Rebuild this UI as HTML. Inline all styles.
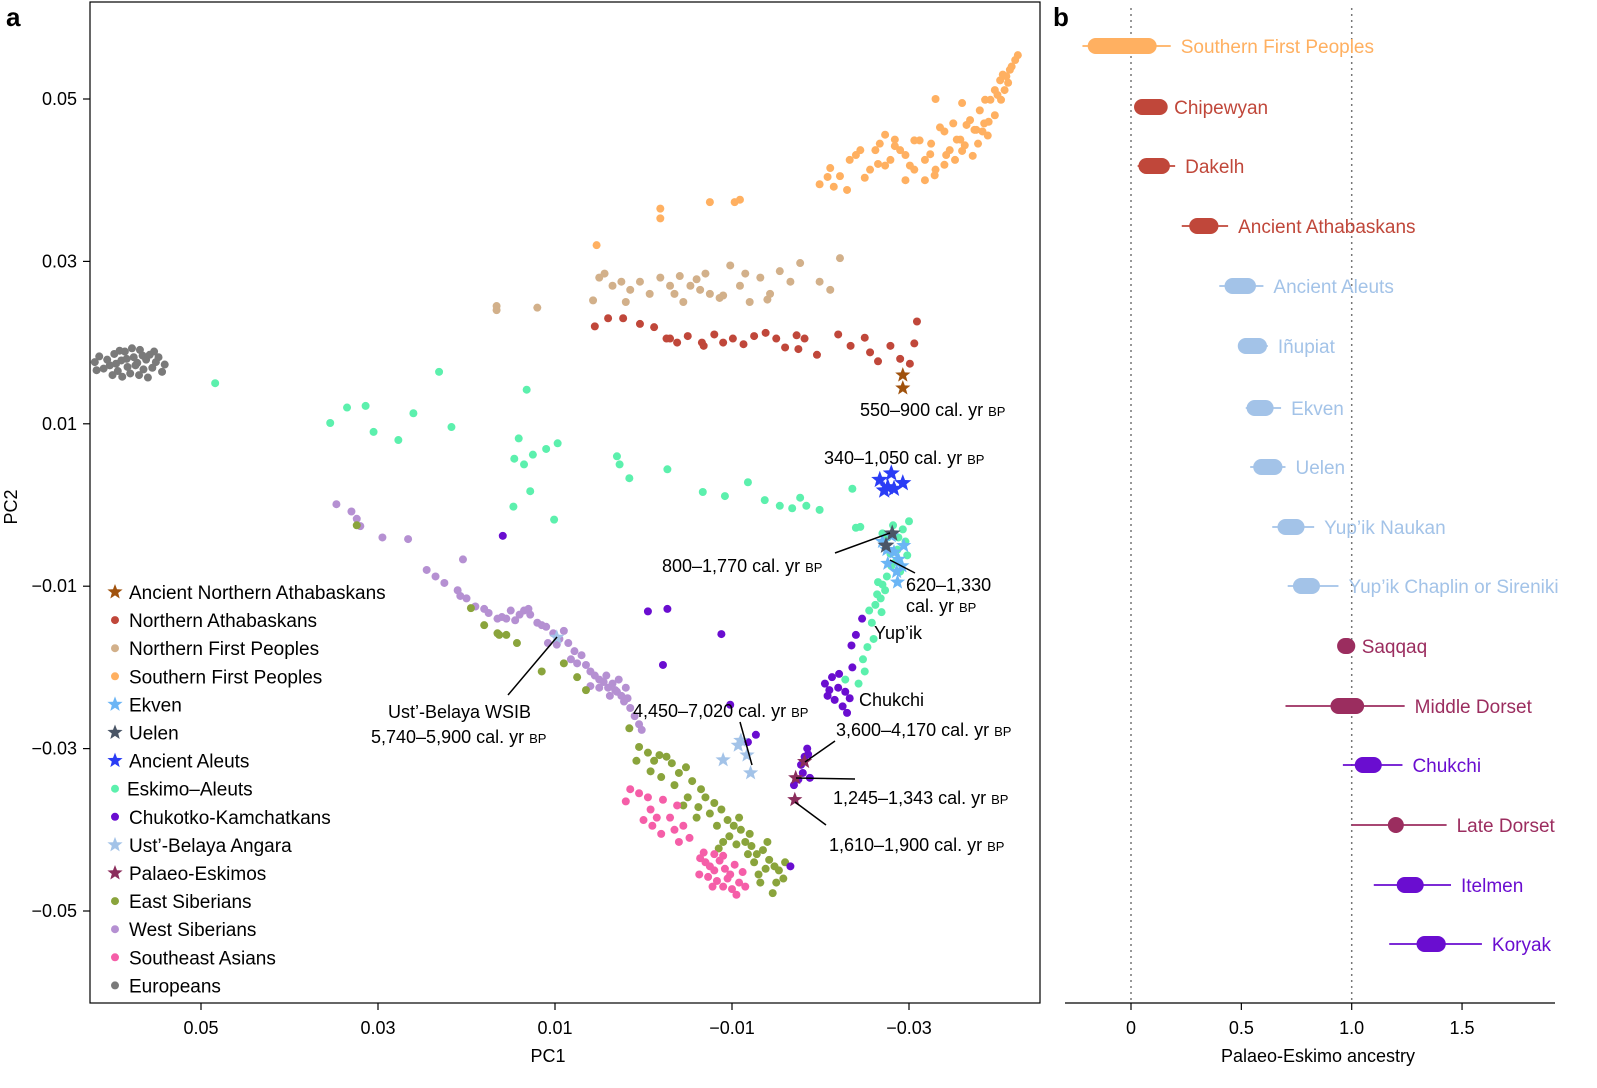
<!DOCTYPE html>
<html><head><meta charset="utf-8">
<style>
html,body{margin:0;padding:0;background:#fff;}
svg{display:block;font-family:"Liberation Sans",Arial,sans-serif;}
</style></head>
<body>
<svg id="chart" width="1597" height="1088" viewBox="0 0 1597 1088">
<text x="6" y="26" font-size="26" font-weight="bold">a</text>
<text x="1053" y="26" font-size="26" font-weight="bold">b</text>
<rect x="90" y="2" width="950" height="1001" fill="none" stroke="#000" stroke-width="1.2"/>
<g id="gA"></g>
<g id="gB"></g>
</svg>
<script>
// ---------- Panel a data (values x1e-3) ----------
const pc1Ticks = [0.05, 0.03, 0.01, -0.01, -0.03];
const pc1TickLabels = ["0.05","0.03","0.01","\u22120.01","\u22120.03"];
const pc2Ticks = [0.05, 0.03, 0.01, -0.01, -0.03, -0.05];
const pc2TickLabels = ["0.05","0.03","0.01","\u22120.01","\u22120.03","\u22120.05"];

const europeans = [[62.0,17.6],[61.5,18.3],[61.0,16.8],[60.6,17.9],[60.3,17.2],[59.8,18.6],[59.4,16.5],[59.0,17.8],[58.6,18.9],[58.3,17.0],[58.0,16.2],[57.6,18.2],[57.2,17.5],[56.9,19.1],[56.5,16.7],[56.2,17.9],[55.8,18.5],[55.5,16.9],[55.1,17.6],[54.8,18.2],[54.4,16.4],[54.1,17.3],[57.8,19.3],[58.9,15.8],[56.0,15.7],[60.0,16.0],[59.2,19.0],[57.0,16.0],[55.3,18.9],[61.8,16.6],[58.4,18.0],[57.4,17.2],[56.6,18.4],[59.6,17.4]];
const southernFP = [[5.3,32.0],[-1.9,36.5],[-1.9,35.3],[-7.5,37.3],[-10.3,37.3],[-10.9,37.6],[-19.9,39.5],[-21.1,41.5],[-22.2,40.5],[-23.3,42.5],[-24.5,43.7],[-25.6,41.3],[-26.7,44.5],[-27.9,42.5],[-29.0,43.7],[-30.1,41.8],[-31.2,44.9],[-32.4,43.2],[-33.5,46.5],[-34.6,43.7],[-35.8,45.0],[-36.9,47.4],[-38.0,48.6],[-39.2,49.9],[-40.3,52.3],[-41.4,53.6],[-42.0,54.8],[-40.8,51.1],[-39.7,48.0],[-38.5,47.0],[-37.4,46.2],[-36.3,44.3],[-35.2,42.5],[-34.0,41.9],[-32.9,40.6],[-31.8,40.0],[-30.6,41.3],[-29.6,43.1],[-28.4,45.0],[-27.3,45.6],[-33.0,50.0],[-36.0,49.5],[-42.3,55.4],[-40.6,53.0],[-39.7,51.1],[-38.6,49.9],[-37.6,46.2],[-36.5,46.8],[-35.4,45.0],[-34.2,43.1],[-33.0,41.3],[-31.8,42.5],[-30.6,44.9],[-29.6,40.0],[-28.4,44.2],[-27.3,41.8],[-26.2,43.7],[-25.0,40.3],[-24.0,43.1],[-37.2,43.0],[-41.0,52.8],[-40.4,49.9],[-38.9,45.5],[-37.8,44.5],[-36.0,43.6],[-39.0,47.2],[-40.0,50.5],[-41.6,54.0],[-41.2,52.0],[-38.3,46.0],[-34.0,46.0],[-35.0,47.0],[-32.5,44.5],[-26.5,42.0],[-23.0,38.8],[-21.5,39.2],[-20.8,40.4]];
const northernFP = [[16.6,24.0],[16.6,24.5],[12.0,24.3],[5.0,28.0],[4.4,28.5],[3.5,27.0],[2.5,27.5],[1.5,26.5],[0.4,27.5],[-0.7,26.0],[-1.9,28.0],[-3.0,27.0],[-4.1,28.2],[-5.3,27.0],[-6.4,26.5],[-7.0,28.5],[-7.5,26.0],[-8.6,25.5],[-9.8,29.5],[-10.9,27.0],[-12.0,25.0],[-13.2,28.0],[-14.3,26.0],[-15.4,28.8],[-16.6,27.5],[-17.7,29.8],[-19.9,27.5],[-21.1,26.5],[-22.2,30.4],[-9.0,25.8],[-6.0,27.8],[-3.5,26.0],[2.0,25.0],[5.7,25.2],[-11.5,28.5],[-14.0,25.3],[-4.5,25.0]];
const northernAth = [[5.5,22.0],[4.0,23.0],[2.3,23.0],[0.4,22.3],[-1.2,21.9],[-2.6,20.5],[-3.8,20.0],[-5.0,20.8],[-6.6,20.0],[-8.0,21.0],[-9.0,20.0],[-10.1,20.5],[-11.3,19.8],[-12.5,20.8],[-13.8,21.2],[-15.0,20.5],[-16.0,19.4],[-17.3,20.9],[-17.5,19.2],[-18.2,20.5],[-19.6,18.5],[-22.0,21.0],[-23.4,19.6],[-25.6,18.8],[-26.5,17.7],[-27.9,19.6],[-29.0,18.0],[-30.1,17.4],[-30.6,19.9],[-30.9,22.6],[-25.0,20.6],[-6.8,19.6],[-3.0,20.5]];
const eskimoAleuts = [[48.4,15.0],[35.4,10.1],[33.5,12.0],[31.4,12.2],[30.5,9.0],[27.7,8.0],[26.0,11.3],[23.1,16.4],[21.7,9.6],[13.2,14.2],[14.1,8.2],[13.5,5.0],[12.5,6.2],[11.0,6.9],[9.7,7.6],[14.6,5.7],[12.8,1.7],[14.7,-0.2],[10.1,-1.8],[3.0,6.0],[2.7,5.0],[1.6,3.3],[-2.7,4.4],[-6.7,1.6],[-9.2,1.1],[-11.8,2.8],[-13.7,0.6],[-15.4,-0.1],[-16.8,-0.4],[-17.7,0.9],[-18.4,-0.1],[-19.9,-0.6],[-23.6,2.0],[-24.0,-2.8],[-24.5,-2.7],[-27.0,-3.5],[-27.6,-4.0],[-28.2,-2.5],[-29.3,-3.0],[-30.0,-2.0],[-29.6,-4.5],[-28.7,-5.5],[-27.9,-6.0],[-28.5,-7.0],[-29.0,-8.2],[-27.5,-8.8],[-26.5,-9.5],[-27.3,-10.5],[-26.8,-11.5],[-26.2,-12.3],[-25.5,-13.0],[-26.9,-13.2],[-25.8,-14.5],[-27.0,-9.8],[-28.0,-7.5],[-26.0,-16.5],[-25.3,-17.5],[-24.8,-19.0],[-25.0,-20.5],[-24.3,-22.0],[-26.4,-11.0],[-28.8,-4.0],[-29.8,-6.2],[-22.8,-21.5]];
const chukotko = [[15.9,-3.8],[-0.5,-13.1],[-2.7,-12.8],[-8.8,-15.9],[-2.2,-19.7],[-9.8,-24.6],[-12.7,-28.3],[-11.8,-29.2],[-16.6,-44.5],[-18.8,-33.6],[-20.5,-22.0],[-21.3,-21.2],[-22.0,-22.5],[-22.8,-23.0],[-21.6,-24.0],[-22.5,-24.8],[-23.3,-23.8],[-20.8,-23.5],[-23.0,-25.6],[-21.0,-22.8],[-22.1,-20.8],[-23.6,-20.0],[-23.5,-17.3],[-24.0,-16.0],[-24.7,-14.0],[-18.5,-30.0],[-18.2,-31.0],[-17.8,-32.0],[-18.0,-33.0],[-17.5,-33.8],[-17.0,-34.5],[-18.6,-30.7]];
const westSib = [[34.7,0.1],[33.0,-0.8],[32.4,-1.7],[32.0,-2.6],[29.5,-4.0],[26.6,-4.2],[23.5,-8.8],[22.5,-9.6],[21.0,-10.5],[20.0,-11.5],[19.0,-12.5],[17.5,-13.3],[16.5,-14.0],[15.5,-14.0],[14.5,-14.2],[13.5,-13.0],[12.8,-13.5],[12.0,-14.5],[11.0,-15.0],[10.2,-15.8],[9.5,-16.5],[9.0,-15.5],[8.5,-17.0],[7.8,-18.0],[7.0,-18.5],[6.5,-19.7],[6.0,-20.5],[5.5,-21.0],[5.0,-21.5],[4.5,-21.8],[4.0,-22.5],[3.5,-22.0],[3.0,-23.0],[2.5,-23.5],[2.0,-22.5],[2.2,-24.2],[1.5,-25.0],[1.0,-26.0],[0.5,-27.0],[0.2,-27.7],[13.0,-12.8],[14.0,-13.5],[16.0,-13.8],[11.5,-14.8],[9.8,-17.2],[5.0,-22.5],[4.2,-21.0],[6.0,-22.3],[3.8,-23.5],[7.5,-19.5],[8.2,-19.0],[15.0,-13.0],[18.0,-12.8],[24.5,-8.0],[20.7,-11.2],[10.8,-17.0],[3.2,-22.8],[2.8,-21.5],[1.8,-23.8],[20.4,-6.7]];
const eastSib = [[32.4,-2.5],[19.5,-12.7],[18.0,-14.8],[16.5,-15.8],[15.5,-16.0],[14.3,-17.0],[11.5,-20.5],[9.0,-19.5],[7.5,-21.2],[6.5,-22.8],[1.6,-27.5],[0.5,-29.8],[-0.5,-30.5],[-1.2,-31.5],[-1.8,-30.8],[-2.6,-31.0],[-3.2,-31.8],[-4.0,-33.0],[-4.8,-32.3],[-5.5,-34.0],[-6.5,-35.0],[-7.0,-36.0],[-8.0,-36.7],[-8.8,-37.5],[-9.5,-38.8],[-10.2,-39.5],[-11.0,-40.0],[-11.5,-41.5],[-12.2,-42.0],[-12.8,-43.0],[-13.5,-42.5],[-14.2,-43.7],[-14.8,-44.5],[-15.3,-45.0],[-15.8,-46.0],[-15.0,-46.5],[-14.6,-47.8],[-13.8,-44.8],[-12.5,-44.0],[-11.8,-43.0],[-10.5,-41.8],[-9.7,-40.8],[-8.3,-39.5],[-7.5,-38.0],[-6.2,-37.2],[-5.0,-36.0],[-3.5,-34.5],[-2.0,-33.5],[-0.8,-32.8],[0.8,-31.5],[-13.0,-45.5],[-16.0,-44.0],[-14.0,-41.5],[-12.0,-40.5],[-10.8,-38.5],[-9.0,-41.5],[-4.5,-37.0],[-6.0,-38.5],[-8.5,-42.3],[-13.2,-46.5],[16.3,-16.0]];
const seAsians = [[1.5,-35.0],[0.5,-35.5],[-0.5,-36.0],[-0.8,-37.5],[-1.5,-38.5],[0.0,-38.8],[-2.2,-36.3],[-3.0,-38.5],[-3.5,-40.0],[-2.0,-40.5],[-4.5,-39.5],[-5.2,-41.0],[-4.0,-41.5],[-6.4,-43.5],[-7.0,-44.0],[-7.5,-44.5],[-8.0,-45.0],[-8.6,-43.8],[-9.2,-44.8],[-9.8,-45.5],[-10.3,-44.3],[-7.3,-45.8],[-8.3,-46.3],[-9.0,-47.0],[-9.5,-46.0],[-10.0,-47.3],[-10.8,-46.5],[-11.2,-45.2],[-6.8,-42.8],[-8.0,-43.0],[-9.0,-43.2],[-7.8,-47.0],[-10.5,-48.0],[-11.5,-47.0],[-6.3,-45.5],[2.0,-36.5],[-1.0,-39.5],[-3.8,-37.0]];
const ekven = [[-27.0,-4.5],[-27.5,-5.5],[-28.3,-5.8],[-28.8,-6.7],[-27.6,-7.2],[-28.6,-8.2],[-29.4,-5.0],[-28.0,-3.8],[-29.2,-7.5],[-28.7,-9.5]];
const uelen = [[-27.4,-5.0],[-28.1,-3.5]];
const ancientAleuts = [[-26.7,3.1],[-27.6,2.2],[-28.3,2.0],[-29.3,2.7],[-27.2,1.8],[-28.0,3.9]];
const ancientNAth = [[-29.3,16.0],[-29.3,14.4]];
const ustBelaya = [[-9.0,-31.4],[-10.7,-29.6],[-11.7,-30.8],[-12.1,-33.0],[-11.0,-29.0],[9.8,-16.3]];
const palaeoEsk = [[-18.2,-31.6],[-17.2,-33.6],[-17.1,-36.3]];

const legendLabels = ["Ancient Northern Athabaskans","Northern Athabaskans","Northern First Peoples","Southern First Peoples","Ekven","Uelen","Ancient Aleuts","Eskimo\u2013Aleuts","Chukotko-Kamchatkans","Ust\u2019-Belaya Angara","Palaeo-Eskimos","East Siberians","West Siberians","Southeast Asians","Europeans"];

// ---------- Panel b data ----------
const bGroups = ["Southern First Peoples","Chipewyan","Dakelh","Ancient Athabaskans","Ancient Aleuts","I\u00f1upiat","Ekven","Uelen","Yup\u2019ik Naukan","Yup\u2019ik Chaplin or Sireniki","Saqqaq","Middle Dorset","Chukchi","Late Dorset","Itelmen","Koryak"];
const bEstLow  = [-0.16,0.05,0.07,0.30,0.46,0.52,0.56,0.59,0.70,0.77,0.97,0.94,1.05,1.20,1.24,1.33];
const bEstHigh = [0.08,0.13,0.14,0.36,0.53,0.58,0.61,0.65,0.75,0.82,0.98,1.02,1.10,1.20,1.29,1.39];
const bCiLow   = [-0.22,0.04,0.03,0.23,0.40,0.49,0.52,0.54,0.64,0.71,0.96,0.70,0.96,1.00,1.10,1.17];
const bCiHigh  = [0.18,0.15,0.20,0.44,0.60,0.62,0.68,0.70,0.83,0.94,1.00,1.24,1.23,1.43,1.45,1.59];
const bColors  = ["#ffb061","#c0473a","#c0473a","#c0473a","#a3c3e8","#a3c3e8","#a3c3e8","#a3c3e8","#a3c3e8","#a3c3e8","#9b2d5f","#9b2d5f","#6a0dd0","#9b2d5f","#6a0dd0","#6a0dd0"];
const bTicks = [0,0.5,1.0,1.5];
const bTickLabels = ["0","0.5","1.0","1.5"];

const NS = "http://www.w3.org/2000/svg";
function mk(tag, attrs, parent){const e=document.createElementNS(NS,tag);for(const k in attrs)e.setAttribute(k,attrs[k]);parent.appendChild(e);return e;}
const gA = document.getElementById("gA"), gB = document.getElementById("gB");

// axis functions panel a
function xA(v){return 201 + (0.05 - v)*8850;}
function yA(v){return 99 + (0.05 - v)*8120;}
function starPath(cx,cy,r){let d="";for(let i=0;i<10;i++){const rr=i%2?r*0.42:r;const a=-Math.PI/2+i*Math.PI/5;d+=(i?"L":"M")+(cx+rr*Math.cos(a)).toFixed(1)+","+(cy+rr*Math.sin(a)).toFixed(1);}return d+"Z";}

// ticks
pc1Ticks.forEach((t,i)=>{
  const x=xA(t);
  const l=mk("line",{x1:x,x2:x,y1:1003,y2:1010,stroke:"#000","stroke-width":1.2},gA);
  
  
  const tx=mk("text",{x:x,y:1034,"font-size":18,"text-anchor":"middle"},gA);tx.textContent=pc1TickLabels[i];
  
  
});
pc2Ticks.forEach((t,i)=>{
  const y=yA(t);
  const l=mk("line",{x1:83,x2:90,y1:y,y2:y,stroke:"#000","stroke-width":1.2},gA);
  
  
  const tx=mk("text",{x:77,y:y+6,"font-size":18,"text-anchor":"end"},gA);tx.textContent=pc2TickLabels[i];
  
  
});
let t1=mk("text",{x:548,y:1062,"font-size":18,"text-anchor":"middle"},gA);t1.textContent="PC1";


let t2=mk("text",{x:0,y:0,"font-size":18,"text-anchor":"middle",transform:"translate(17,507) rotate(-90)"},gA);t2.textContent="PC2";



function dots(arr,color,name){
  const g=mk("g",{},gA);
  
  
  arr.forEach(p=>{const c=mk("circle",{cx:xA(p[0]/1000),cy:yA(p[1]/1000),r:4,fill:color},g);
    
    });
}
function stars(arr,color,name,r){
  const g=mk("g",{},gA);
  
  
  arr.forEach(p=>{const s=mk("path",{d:starPath(xA(p[0]/1000),yA(p[1]/1000),r||8),fill:color},g);
    
    });
}
dots(europeans,"#7a7a7a","europeans");
dots(southernFP,"#ffb061","southern-first-peoples");
dots(northernFP,"#d2b08a","northern-first-peoples");
dots(northernAth,"#c0473a","northern-athabaskans");
dots(eskimoAleuts,"#5cf0ad","eskimo-aleuts");
dots(westSib,"#b590d2","west-siberians");
dots(eastSib,"#8aa43c","east-siberians");
dots(seAsians,"#f55ea8","southeast-asians");
dots(chukotko,"#6a0dd0","chukotko-kamchatkans");
stars(ancientNAth,"#a0520d","ancient-northern-athabaskans");
stars(ancientAleuts,"#2a3cf5","ancient-aleuts",9);
stars(ekven,"#6bb5f5","ekven");
stars(uelen,"#4a5566","uelen",9);
stars(ustBelaya,"#a3c3e8","ust-belaya-angara");
stars(palaeoEsk,"#8b2d5c","palaeo-eskimos");

// annotations
function ann(x,y,main,small,name){
  const t=mk("text",{x:x,y:y,"font-size":18},gA);
  
  
  t.appendChild(document.createTextNode(main));
  if(small){const s=mk("tspan",{"font-size":13},t);s.textContent=small;}
}
function ln(x1,y1,x2,y2){const l=mk("line",{x1,y1,x2,y2,stroke:"#000","stroke-width":1.5},gA);
  
  }
ann(860,416,"550\u2013900 cal. yr ","BP","annotation-550-900");
ann(824,464,"340\u20131,050 cal. yr ","BP","annotation-340-1050");
ann(662,572,"800\u20131,770 cal. yr ","BP","annotation-800-1770");ln(835,553,890,533);
ann(906,591,"620\u20131,330","","annotation-620-1330");
ann(906,612,"cal. yr ","BP","annotation-620-1330-unit");ln(915,573,890,560);
ann(874,639,"Yup\u2019ik","","annotation-yupik");
ann(859,706,"Chukchi","","annotation-chukchi");
ann(388,718,"Ust\u2019-Belaya WSIB","","annotation-ust-belaya-wsib");
ann(371,743,"5,740\u20135,900 cal. yr ","BP","annotation-5740-5900");ln(508,695,557,637);
ann(633,717,"4,450\u20137,020 cal. yr ","BP","annotation-4450-7020");ln(740,722,752,765);
ann(836,736,"3,600\u20134,170 cal. yr ","BP","annotation-3600-4170");ln(835,741,805,762);
ann(833,804,"1,245\u20131,343 cal. yr ","BP","annotation-1245-1343");ln(855,779,796,778);
ann(829,851,"1,610\u20131,900 cal. yr ","BP","annotation-1610-1900");ln(826,825,795,802);

// legend
const legendColors=["#a0520d","#c0473a","#d2b08a","#ffb061","#6bb5f5","#4a5566","#2a3cf5","#5cf0ad","#6a0dd0","#a3c3e8","#8b2d5c","#8aa43c","#b590d2","#f55ea8","#7a7a7a"];
const legendStar=[1,0,0,0,1,1,1,0,0,1,1,0,0,0,0];
const lg=mk("g",{},gA);


legendLabels.forEach((lab,i)=>{
  const y=592+i*28.1;
  const g=mk("g",{},lg);
  
  
  if(legendStar[i]) mk("path",{d:starPath(115,y,8),fill:legendColors[i]},g);
  else mk("circle",{cx:115,cy:y,r:4,fill:legendColors[i]},g);
  const t=mk("text",{x:i==7?127:129,y:y+7,"font-size":19},g);t.textContent=lab;
});

// ---------- Panel b ----------
function xB(v){return 1131 + v*220.7;}
const rowY=[46,107,166,226,286,346,408,467,527,586,646,706,765,825,885,944];
mk("line",{x1:1065,x2:1555,y1:1003,y2:1003,stroke:"#000","stroke-width":1.2},gB);
[0,1].forEach(v=>{const l=mk("line",{x1:xB(v),x2:xB(v),y1:8,y2:1003,stroke:"#777","stroke-width":1.5,"stroke-dasharray":"2,4"},gB);
  
  });
bTicks.forEach((t,i)=>{
  mk("line",{x1:xB(t),x2:xB(t),y1:1003,y2:1010,stroke:"#000","stroke-width":1.2},gB);
  const tx=mk("text",{x:xB(t),y:1034,"font-size":18,"text-anchor":"middle"},gB);tx.textContent=bTickLabels[i];
  
  
});
let t3=mk("text",{x:1318,y:1062,"font-size":18,"text-anchor":"middle"},gB);t3.textContent="Palaeo-Eskimo ancestry";


bGroups.forEach((name,i)=>{
  const y=rowY[i], c=bColors[i];
  const g=mk("g",{},gB);
  
  
  mk("line",{x1:xB(bCiLow[i]),x2:xB(bCiHigh[i]),y1:y,y2:y,stroke:c,"stroke-width":1.8},g);
  const a=xB(bEstLow[i]), b=xB(bEstHigh[i]);
  mk("rect",{x:a-8,y:y-8,width:Math.max(16,b-a+16),height:16,rx:8,fill:c},g);
  const t=mk("text",{x:xB(bCiHigh[i])+10,y:y+7,"font-size":19,fill:c},g);t.textContent=name;
});
</script>
</body></html>
